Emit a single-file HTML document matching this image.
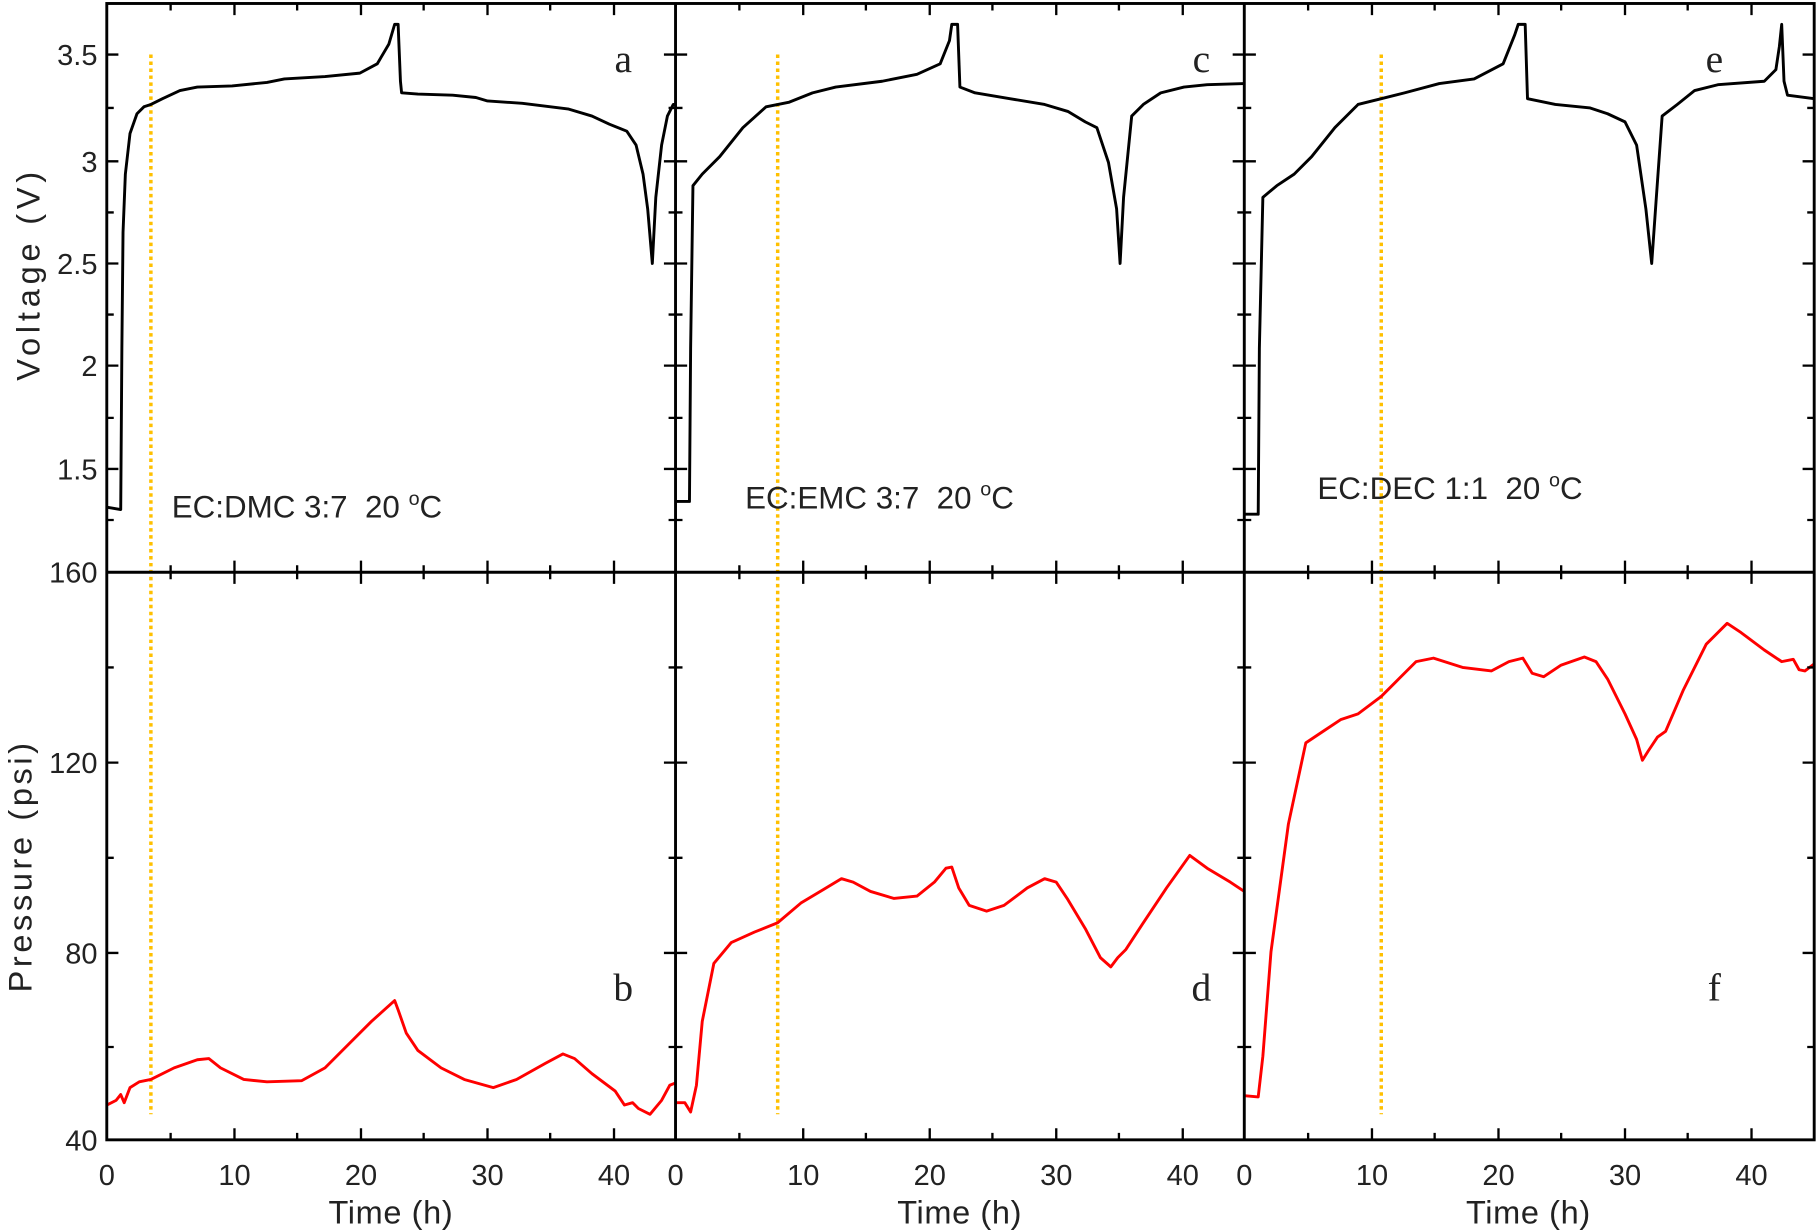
<!DOCTYPE html>
<html><head><meta charset="utf-8"><style>
html,body{margin:0;padding:0;background:#fff;}
svg{display:block;}
text{font-family:"Liberation Sans",sans-serif;fill:#222;white-space:pre;}
.s{font-family:"Liberation Serif",serif;}
</style></head><body>
<svg width="1820" height="1232" viewBox="0 0 1568 1061.4" preserveAspectRatio="none" xmlns="http://www.w3.org/2000/svg">
<g fill="none" stroke="#ffc000" stroke-width="3" stroke-dasharray="3,3">
<line x1="130" y1="47" x2="130" y2="960"/>
<line x1="670" y1="47" x2="670" y2="960"/>
<line x1="1190" y1="47" x2="1190" y2="960"/>
</g>
<g fill="none" stroke="#000" stroke-width="2.5" stroke-linejoin="round">
<polyline points="92,437 104,439 105,300 106,200 108,150 112,115 118,98 124,92 130,90 140,85 155,78 170,75 200,74 230,71 245,68 280,66 310,63 325,55 335,38 340,21 343,21 345,70 346,80 360,81 390,82 410,84 420,87 450,89 490,94 510,100 525,107 540,113 548,125 554,150 558,180 562,227 565,170 570,125 575,100 580,90 582,90"/>
<polyline points="582,432 594,432 595,300 597,160 605,150 620,135 640,110 660,92 680,88 700,80 720,75 760,70 790,64 810,55 818,35 820,21 825,21 827,75 840,80 870,85 900,90 920,96 935,105 945,110 955,140 962,180 965,227 968,170 975,100 985,90 1000,80 1020,75 1040,73 1072,72"/>
<polyline points="1072,443 1084,443 1085,300 1088,170 1100,160 1115,150 1130,135 1150,110 1170,90 1190,85 1210,80 1240,72 1270,68 1295,55 1305,30 1308,21 1314,21 1316,85 1340,90 1370,93 1385,98 1400,105 1410,125 1418,180 1423,227 1427,170 1432,100 1445,90 1460,78 1480,73 1520,70 1530,60 1533,40 1535,21 1537,70 1540,82 1563,85"/>
</g>
<g fill="none" stroke="#f00" stroke-width="2.5" stroke-linejoin="round">
<polyline points="92,952 100,948 104,943 107,950 112,937 120,932 130,930 150,920 170,913 180,912 190,920 210,930 230,932 260,931 280,920 300,900 320,880 340,862 343,870 350,890 360,905 380,920 400,930 425,937 445,930 470,916 485,908 495,912 510,925 530,940 538,952 545,950 550,955 560,960 570,948 577,935 582,933"/>
<polyline points="582,950 590,950 595,958 600,935 605,880 615,830 630,812 650,803 670,795 690,778 710,766 725,757 735,760 750,768 770,774 790,772 805,760 815,748 820,747 826,765 835,780 850,785 865,780 885,765 900,757 910,760 920,775 935,800 948,825 957,833 963,825 970,818 985,795 1005,765 1025,737 1040,748 1060,760 1072,768"/>
<polyline points="1072,944 1084,945 1088,910 1095,820 1110,710 1125,640 1140,630 1155,620 1170,615 1190,600 1205,585 1220,570 1235,567 1260,575 1285,578 1300,570 1312,567 1320,580 1330,583 1345,573 1365,566 1375,570 1385,585 1400,615 1410,637 1415,655 1420,647 1428,635 1435,630 1450,595 1470,555 1488,537 1500,545 1520,560 1535,570 1545,568 1550,577 1555,578 1563,572"/>
</g>
<g stroke="#000" stroke-width="2.5" fill="none">
<rect x="92" y="3" width="1471" height="979"/>
<line x1="92" y1="493" x2="1563" y2="493"/>
<line x1="582" y1="3" x2="582" y2="982"/>
<line x1="1072" y1="3" x2="1072" y2="982"/>
</g>
<g font-size="25" text-anchor="end">
<text x="84" y="56">3.5</text><text x="84" y="148">3</text><text x="84" y="236">2.5</text><text x="84" y="324">2</text><text x="84" y="413">1.5</text>
<text x="84" y="502">160</text><text x="84" y="666">120</text><text x="84" y="830">80</text><text x="84" y="991">40</text>
</g>
<g font-size="25" text-anchor="middle">
<text x="92" y="1021">0</text><text x="202" y="1021">10</text><text x="311" y="1021">20</text><text x="420" y="1021">30</text><text x="529" y="1021">40</text>
<text x="582" y="1021">0</text><text x="692" y="1021">10</text><text x="801" y="1021">20</text><text x="910" y="1021">30</text><text x="1019" y="1021">40</text>
<text x="1072" y="1021">0</text><text x="1182" y="1021">10</text><text x="1291" y="1021">20</text><text x="1400" y="1021">30</text><text x="1509" y="1021">40</text>
</g>
<g font-size="28">
<text x="283" y="1054" textLength="107">Time (h)</text><text x="773" y="1054" textLength="107">Time (h)</text><text x="1263" y="1054" textLength="107">Time (h)</text>
<text transform="translate(34,328) rotate(-90)" textLength="180">Voltage (V)</text>
<text transform="translate(27,855) rotate(-90)" textLength="215">Pressure (psi)</text>
</g>
<g font-size="34" text-anchor="middle">
<text class="s" x="537" y="62">a</text><text class="s" x="1035" y="62">c</text><text class="s" x="1477" y="62">e</text>
<text class="s" x="537" y="862">b</text><text class="s" x="1035" y="862">d</text><text class="s" x="1477" y="862">f</text>
</g>
<g font-size="27">
<text x="148" y="446">EC:DMC 3:7  20 <tspan font-size="17" dy="-11">o</tspan><tspan dy="11">C</tspan></text>
<text x="642" y="438">EC:EMC 3:7  20 <tspan font-size="17" dy="-11">o</tspan><tspan dy="11">C</tspan></text>
<text x="1135" y="430">EC:DEC 1:1  20 <tspan font-size="17" dy="-11">o</tspan><tspan dy="11">C</tspan></text>
</g>
<g stroke="#000" stroke-width="2">
<path d="M92,47h10M92,139h10M92,227h10M92,315h10M92,404h10M92,93h6M92,183h6M92,271h6M92,360h6M92,448h6
M582,47h-10M582,139h-10M582,227h-10M582,315h-10M582,404h-10M582,93h-6M582,183h-6M582,271h-6M582,360h-6M582,448h-6
M582,47h10M582,139h10M582,227h10M582,315h10M582,404h10M582,93h6M582,183h6M582,271h6M582,360h6M582,448h6
M1072,47h-10M1072,139h-10M1072,227h-10M1072,315h-10M1072,404h-10M1072,93h-6M1072,183h-6M1072,271h-6M1072,360h-6M1072,448h-6
M1072,47h10M1072,139h10M1072,227h10M1072,315h10M1072,404h10M1072,93h6M1072,183h6M1072,271h6M1072,360h6M1072,448h6
M1563,47h-10M1563,139h-10M1563,227h-10M1563,315h-10M1563,404h-10M1563,93h-6M1563,183h-6M1563,271h-6M1563,360h-6M1563,448h-6
M92,657h10M92,821h10M92,575h6M92,739h6M92,902h6
M582,657h-10M582,821h-10M582,575h-6M582,739h-6M582,902h-6
M582,657h10M582,821h10M582,575h6M582,739h6M582,902h6
M1072,657h-10M1072,821h-10M1072,575h-6M1072,739h-6M1072,902h-6
M1072,657h10M1072,821h10M1072,575h6M1072,739h6M1072,902h6
M1563,657h-10M1563,821h-10M1563,575h-6M1563,739h-6M1563,902h-6"/>
<path d="M202,982v-10M311,982v-10M420,982v-10M529,982v-10M147,982v-6M256,982v-6M365,982v-6M474,982v-6
M692,982v-10M801,982v-10M910,982v-10M1019,982v-10M637,982v-6M746,982v-6M855,982v-6M964,982v-6
M1182,982v-10M1291,982v-10M1400,982v-10M1509,982v-10M1127,982v-6M1236,982v-6M1345,982v-6M1454,982v-6
M202,3v10M311,3v10M420,3v10M529,3v10M147,3v6M256,3v6M365,3v6M474,3v6
M692,3v10M801,3v10M910,3v10M1019,3v10M637,3v6M746,3v6M855,3v6M964,3v6
M1182,3v10M1291,3v10M1400,3v10M1509,3v10M1127,3v6M1236,3v6M1345,3v6M1454,3v6
M202,493v-10M311,493v-10M420,493v-10M529,493v-10M147,493v-6M256,493v-6M365,493v-6M474,493v-6
M692,493v-10M801,493v-10M910,493v-10M1019,493v-10M637,493v-6M746,493v-6M855,493v-6M964,493v-6
M1182,493v-10M1291,493v-10M1400,493v-10M1509,493v-10M1127,493v-6M1236,493v-6M1345,493v-6M1454,493v-6
M202,493v10M311,493v10M420,493v10M529,493v10M147,493v6M256,493v6M365,493v6M474,493v6
M692,493v10M801,493v10M910,493v10M1019,493v10M637,493v6M746,493v6M855,493v6M964,493v6
M1182,493v10M1291,493v10M1400,493v10M1509,493v10M1127,493v6M1236,493v6M1345,493v6M1454,493v6"/>
</g>
</svg>
</body></html>
